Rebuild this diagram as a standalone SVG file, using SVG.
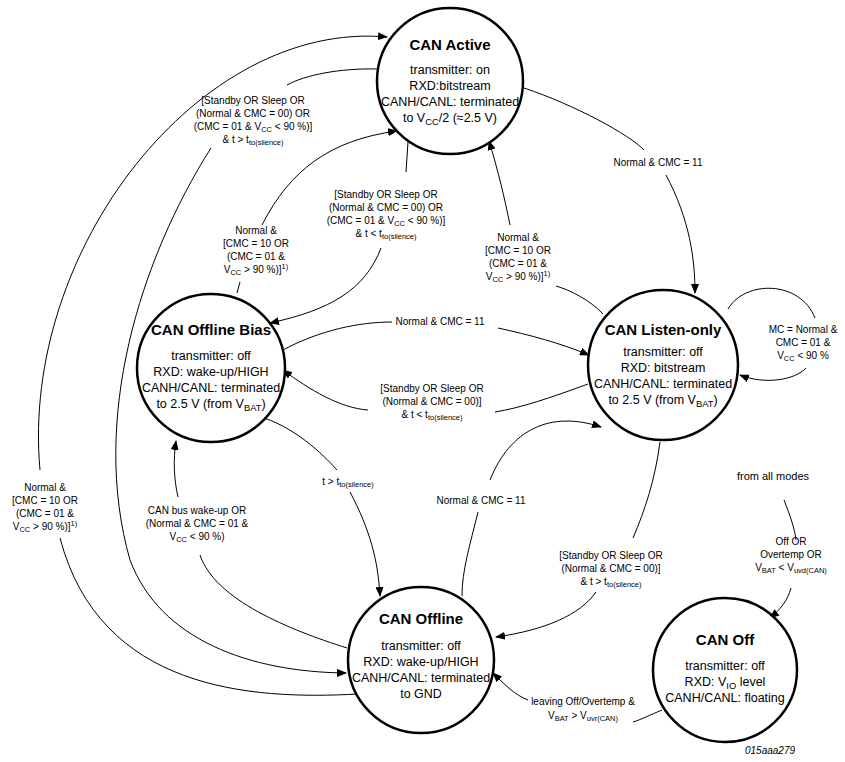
<svg xmlns="http://www.w3.org/2000/svg" width="845" height="762" viewBox="0 0 845 762">
<style>
.st{fill:#fff;stroke:#000;stroke-width:2.5}
.t{font-family:"Liberation Sans",Arial,sans-serif;font-size:15px;font-weight:bold;text-anchor:middle}
.b{font-family:"Liberation Sans",Arial,sans-serif;font-size:12.5px;text-anchor:middle}
.l{font-family:"Liberation Sans",Arial,sans-serif;font-size:10px;text-anchor:middle}
.s{font-size:75%}
.c{fill:none;stroke:#000;stroke-width:1;marker-end:url(#a)}
.n{fill:none;stroke:#000;stroke-width:1}
</style>
<defs><marker id="a" markerWidth="10" markerHeight="8" refX="9" refY="4" orient="auto" markerUnits="userSpaceOnUse"><path d="M0,0 L10,4 L0,8 z"/></marker></defs>
<rect width="845" height="762" fill="#fff"/>
<g id="connectors">
<path class="n" d="M358,694 C250,700 100,690 60,538"/>
<path class="c" d="M40,470 C20,250 200,20 387,37"/>
<path class="n" d="M378,69 C340,68 305,75 287,85"/>
<path class="c" d="M211,148 C140,260 90,420 130,560 C160,640 250,672 346,673"/>
<path class="n" d="M347,648 C290,630 215,600 200,555"/>
<path class="c" d="M178,497 C174,480 173,460 176,441"/>
<path class="n" d="M237,293 L240,282"/>
<path class="c" d="M262,225 C290,170 330,140 397,131"/>
<path class="n" d="M408,142 L406,172"/>
<path class="c" d="M381,248 C365,290 330,310 270,323"/>
<path class="n" d="M524,88 C575,105 630,135 644,150"/>
<path class="c" d="M666,175 C690,220 695,260 695,293"/>
<path class="n" d="M603,314 C590,300 570,290 556,286"/>
<path class="c" d="M510,225 C505,200 498,170 489,141"/>
<path class="n" d="M283,350 C320,330 360,322 392,322"/>
<path class="c" d="M498,328 C530,335 560,343 589,355"/>
<path class="n" d="M588,384 C550,398 520,408 495,412"/>
<path class="c" d="M368,410 C340,408 310,390 283,370"/>
<path class="n" d="M728,309 C745,280 800,280 815,318"/>
<path class="c" d="M806,368 C795,380 765,385 740,375"/>
<path class="n" d="M264,418 C300,430 328,460 337,470"/>
<path class="c" d="M350,492 C370,530 378,560 380,596"/>
<path class="n" d="M462,596 C462,570 470,545 478,512"/>
<path class="c" d="M490,480 C510,430 550,410 601,427"/>
<path class="n" d="M660,442 C655,480 645,510 633,538"/>
<path class="c" d="M596,592 C580,615 545,630 496,637"/>
<path class="n" d="M784,500 C790,515 795,530 796,540"/>
<path class="c" d="M791,588 C788,600 780,610 770,618"/>
<path class="n" d="M662,710 C650,715 640,720 633,722"/>
<path class="c" d="M528,700 C515,695 505,685 493,673"/>
</g>
<g id="can-active"><circle class="st" cx="450" cy="81" r="73"/>
<text class="t" x="450" y="50">CAN Active</text>
<text class="b" x="450" y="74">transmitter: on</text>
<text class="b" x="450" y="90">RXD:bitstream</text>
<text class="b" x="450" y="106">CANH/CANL: terminated</text>
<text class="b" x="450" y="122">to V<tspan class="s" dy="3">CC</tspan><tspan dy="-3">/2 (≈2.5 V)</tspan></text></g>
<g id="can-offline-bias"><circle class="st" cx="211" cy="368" r="74"/>
<text class="t" x="211" y="335">CAN Offline Bias</text>
<text class="b" x="211" y="360">transmitter: off</text>
<text class="b" x="211" y="376">RXD: wake-up/HIGH</text>
<text class="b" x="211" y="392">CANH/CANL: terminated</text>
<text class="b" x="211" y="408">to 2.5 V (from V<tspan class="s" dy="3">BAT</tspan><tspan dy="-3">)</tspan></text></g>
<g id="can-listen-only"><circle class="st" cx="663" cy="365" r="75"/>
<text class="t" x="663" y="335">CAN Listen-only</text>
<text class="b" x="663" y="356">transmitter: off</text>
<text class="b" x="663" y="372">RXD: bitstream</text>
<text class="b" x="663" y="388">CANH/CANL: terminated</text>
<text class="b" x="663" y="404">to 2.5 V (from V<tspan class="s" dy="3">BAT</tspan><tspan dy="-3">)</tspan></text></g>
<g id="can-offline"><circle class="st" cx="421" cy="660" r="73"/>
<text class="t" x="421" y="624">CAN Offline</text>
<text class="b" x="421" y="650">transmitter: off</text>
<text class="b" x="421" y="666">RXD: wake-up/HIGH</text>
<text class="b" x="421" y="682">CANH/CANL: terminated</text>
<text class="b" x="421" y="698">to GND</text></g>
<g id="can-off"><circle class="st" cx="725" cy="670" r="72"/>
<text class="t" x="725" y="645">CAN Off</text>
<text class="b" x="725" y="670">transmitter: off</text>
<text class="b" x="725" y="686">RXD: V<tspan class="s" dy="3">IO</tspan><tspan dy="-3"> level</tspan></text>
<text class="b" x="725" y="702">CANH/CANL: floating</text></g>
<g id="labels">
<text class="l" x="253" y="104">[Standby OR Sleep OR</text>
<text class="l" x="253" y="117">(Normal &amp; CMC = 00) OR</text>
<text class="l" x="253" y="130">(CMC = 01 &amp; V<tspan class="s" dy="2">CC</tspan><tspan dy="-2"> &lt; 90 %)]</tspan></text>
<text class="l" x="253" y="143">&amp; t &gt; t<tspan class="s" dy="2">to(silence)</tspan></text>
<text class="l" x="386" y="198">[Standby OR Sleep OR</text>
<text class="l" x="386" y="211">(Normal &amp; CMC = 00) OR</text>
<text class="l" x="386" y="224">(CMC = 01 &amp; V<tspan class="s" dy="2">CC</tspan><tspan dy="-2"> &lt; 90 %)]</tspan></text>
<text class="l" x="386" y="237">&amp; t &lt; t<tspan class="s" dy="2">to(silence)</tspan></text>
<text class="l" x="256" y="234">Normal &amp;</text>
<text class="l" x="256" y="247">[CMC = 10 OR</text>
<text class="l" x="256" y="260">(CMC = 01 &amp;</text>
<text class="l" x="256" y="273">V<tspan class="s" dy="2">CC</tspan><tspan dy="-2"> &gt; 90 %)]</tspan><tspan class="s" dy="-4">1)</tspan></text>
<text class="l" x="658" y="166">Normal &amp; CMC = 11</text>
<text class="l" x="518" y="241">Normal &amp;</text>
<text class="l" x="518" y="254">[CMC = 10 OR</text>
<text class="l" x="518" y="267">(CMC = 01 &amp;</text>
<text class="l" x="518" y="280">V<tspan class="s" dy="2">CC</tspan><tspan dy="-2"> &gt; 90 %)]</tspan><tspan class="s" dy="-4">1)</tspan></text>
<text class="l" x="440" y="325">Normal &amp; CMC = 11</text>
<text class="l" x="432" y="392">[Standby OR Sleep OR</text>
<text class="l" x="432" y="405">(Normal &amp; CMC = 00)]</text>
<text class="l" x="432" y="418">&amp; t &lt; t<tspan class="s" dy="2">to(silence)</tspan></text>
<text class="l" x="803" y="333">MC = Normal &amp;</text>
<text class="l" x="803" y="346">CMC = 01 &amp;</text>
<text class="l" x="803" y="359">V<tspan class="s" dy="2">CC</tspan><tspan dy="-2"> &lt; 90 %</tspan></text>
<text class="l" x="348" y="485">t &gt; t<tspan class="s" dy="2">to(silence)</tspan></text>
<text class="l" x="481" y="504">Normal &amp; CMC = 11</text>
<text class="l" x="197" y="514">CAN bus wake-up OR</text>
<text class="l" x="197" y="527">(Normal &amp; CMC = 01 &amp;</text>
<text class="l" x="197" y="540">V<tspan class="s" dy="2">CC</tspan><tspan dy="-2"> &lt; 90 %)</tspan></text>
<text class="l" x="45" y="491">Normal &amp;</text>
<text class="l" x="45" y="504">[CMC = 10 OR</text>
<text class="l" x="45" y="517">(CMC = 01 &amp;</text>
<text class="l" x="45" y="530">V<tspan class="s" dy="2">CC</tspan><tspan dy="-2"> &gt; 90 %)]</tspan><tspan class="s" dy="-4">1)</tspan></text>
<text class="l" x="611" y="559">[Standby OR Sleep OR</text>
<text class="l" x="611" y="572">(Normal &amp; CMC = 00)]</text>
<text class="l" x="611" y="585">&amp; t &gt; t<tspan class="s" dy="2">to(silence)</tspan></text>
<text class="b" x="773" y="480" style="font-size:11px">from all modes</text>
<text class="l" x="791" y="545">Off OR</text>
<text class="l" x="791" y="558">Overtemp OR</text>
<text class="l" x="791" y="571">V<tspan class="s" dy="2">BAT</tspan><tspan dy="-2"> &lt; V</tspan><tspan class="s" dy="2">uvd(CAN)</tspan></text>
<text class="l" x="583" y="705">leaving Off/Overtemp &amp;</text>
<text class="l" x="583" y="719">V<tspan class="s" dy="2">BAT</tspan><tspan dy="-2"> &gt; V</tspan><tspan class="s" dy="2">uvr(CAN)</tspan></text>
<text class="l" x="770" y="754" style="font-style:italic">015aaa279</text>
</g>
</svg>
